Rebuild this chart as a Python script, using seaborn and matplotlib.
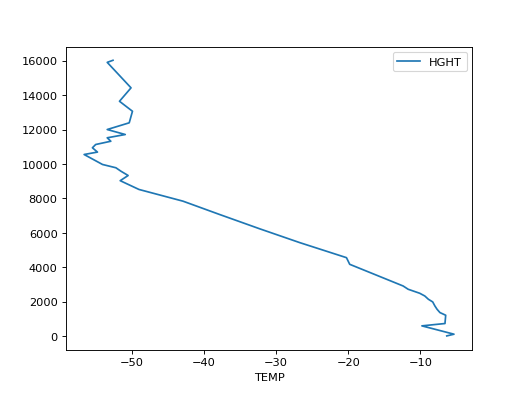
import matplotlib
matplotlib.use("Agg")
import matplotlib.pyplot as plt
import seaborn as sns
import pandas as pd

temp = [-6.35, -5.35, -9.8, -6.6, -6.5, -7.3, -7.7, -8.0, -8.3, -8.9, -9.4, -10.1,
        -11.7, -12.4, -19.8, -20.25, -26.7, -32.3, -37.85, -42.9, -49.0, -51.6,
        -50.5, -51.5, -52.2, -54.05, -56.6, -54.75, -55.45, -55.0, -52.9, -53.4,
        -50.9, -53.4, -50.35, -49.9, -51.7, -50.1, -53.4, -52.6]
hght = [17, 116, 600, 736, 1217, 1372, 1565, 1757, 1990, 2145, 2336, 2493,
        2725, 2916, 4174, 4560, 5430, 6240, 7070, 7840, 8520, 9030,
        9330, 9580, 9780, 9970, 10550, 10690, 10940, 11130, 11320, 11520,
        11710, 12000, 12390, 13060, 13640, 14420, 15900, 16020]

df = pd.DataFrame({"TEMP": temp, "HGHT": hght})

fig, ax = plt.subplots(figsize=(6.4, 4.8), dpi=82.03)
sns.lineplot(data=df, x="TEMP", y="HGHT", sort=False, estimator=None,
             color="#1f77b4", label="HGHT", ax=ax)
ax.set_ylabel("")
ax.set_xlabel("TEMP")
ax.legend(loc="upper right")
fig.savefig("out.png", dpi=82.03)
